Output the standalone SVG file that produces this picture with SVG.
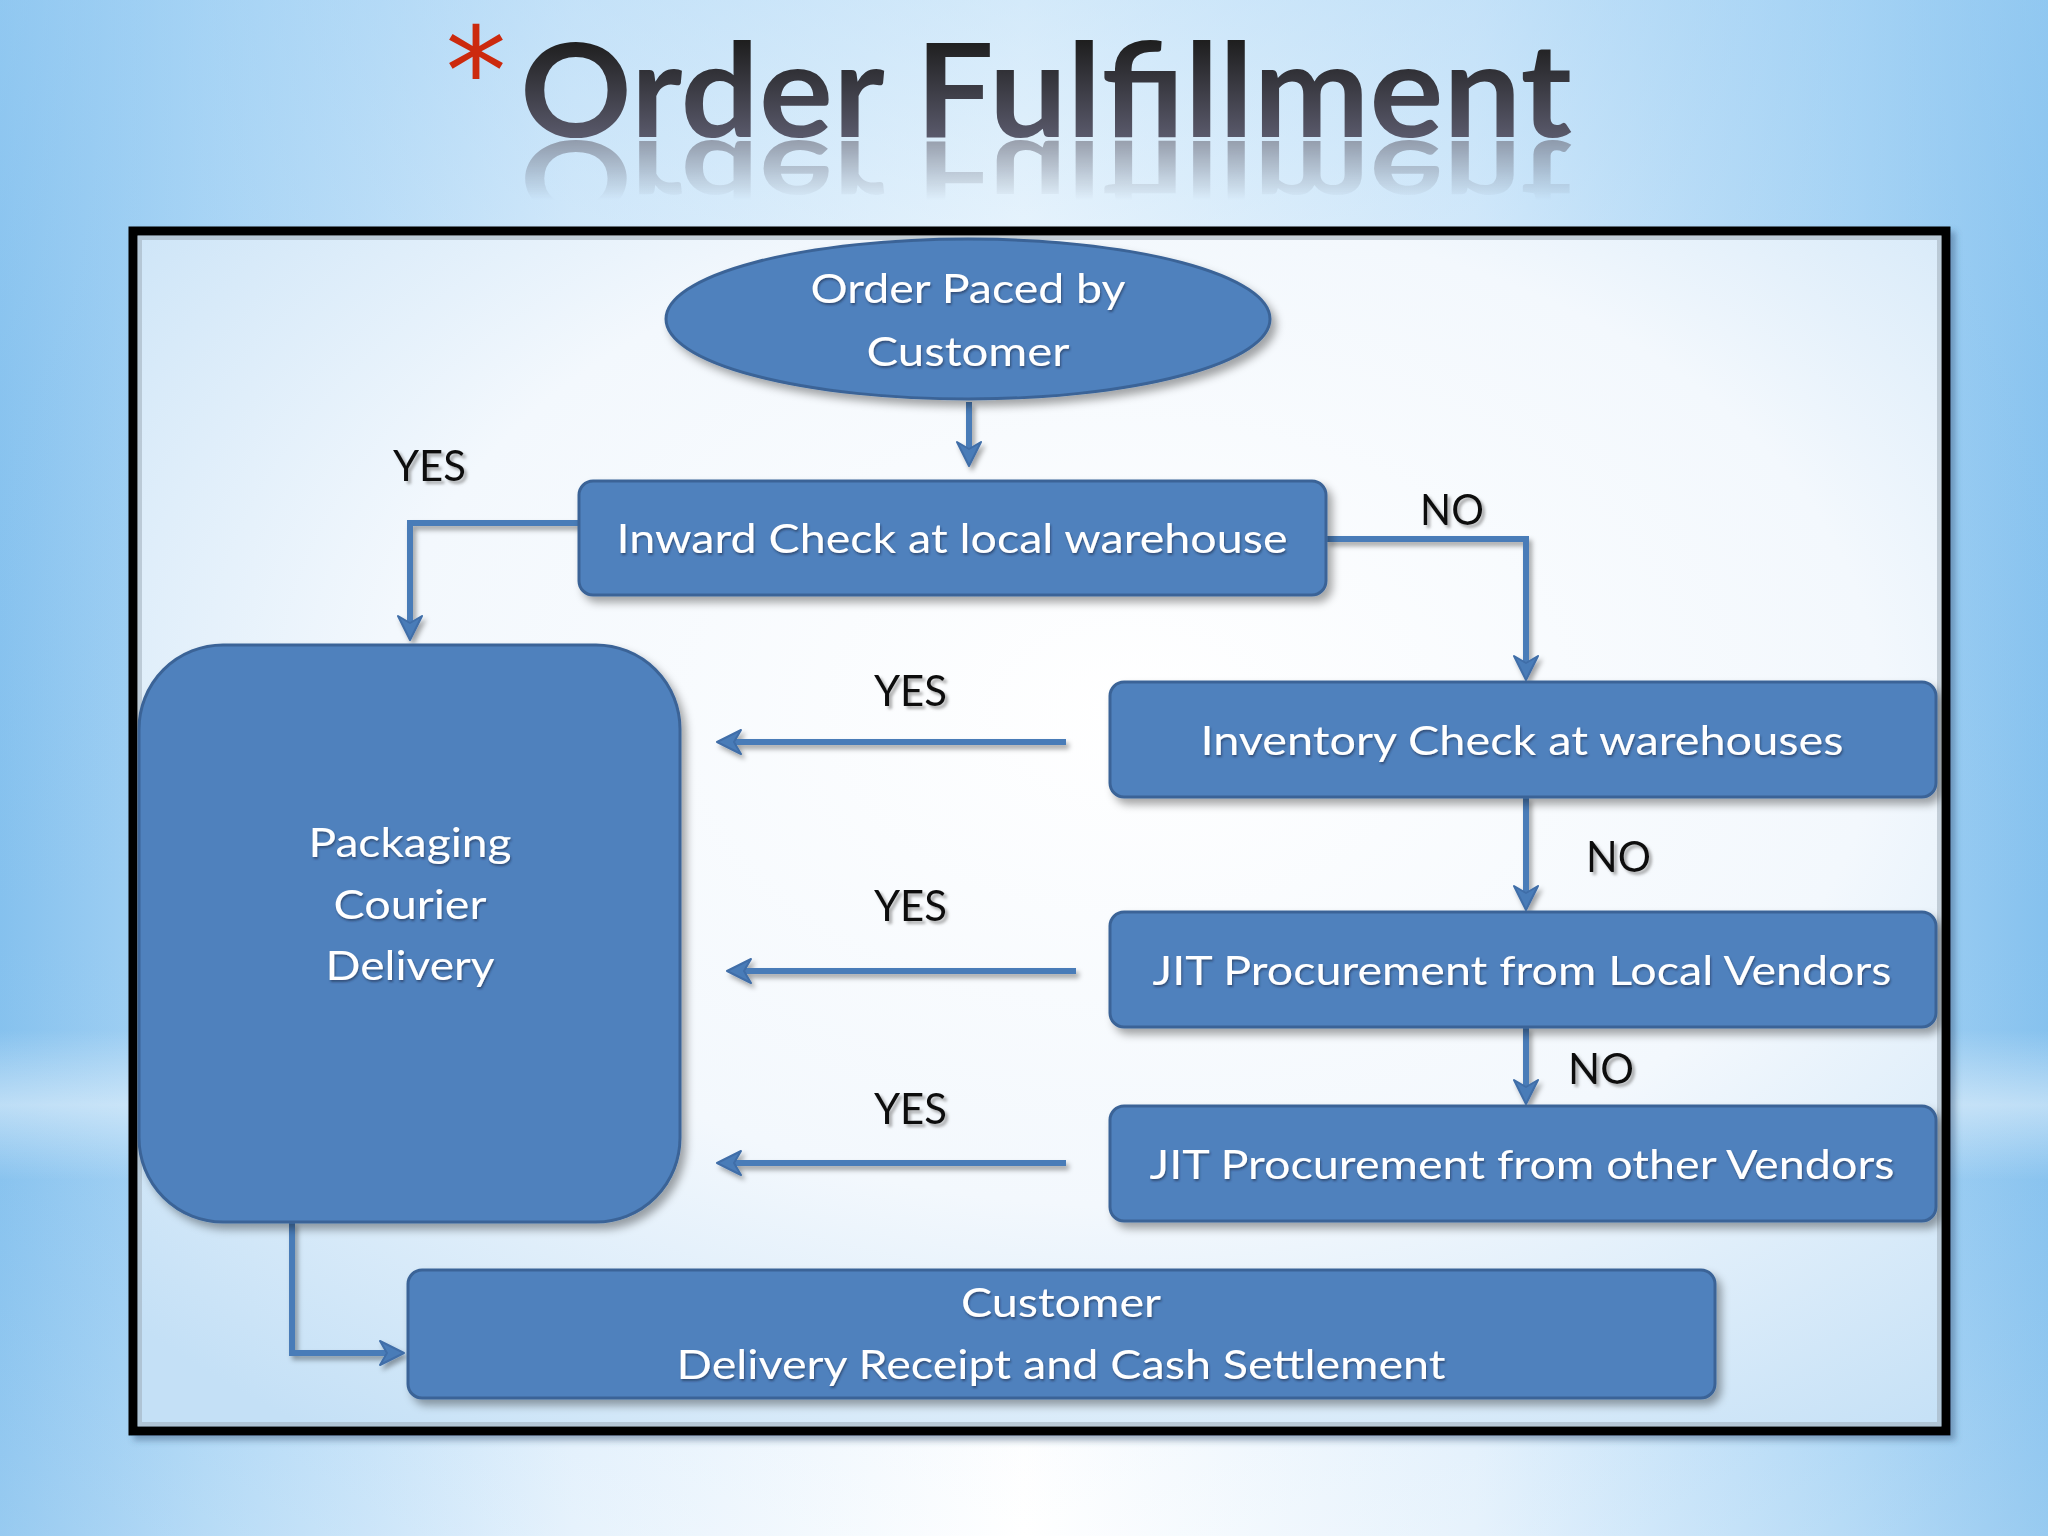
<svg xmlns="http://www.w3.org/2000/svg" width="2048" height="1536" viewBox="0 0 2048 1536">
  <defs>
    <linearGradient id="bg" x1="0" y1="0" x2="1" y2="0">
      <stop offset="0" stop-color="#85c1ee"/>
      <stop offset="0.1" stop-color="#aad5f5"/>
      <stop offset="0.28" stop-color="#e2f0fc"/>
      <stop offset="0.5" stop-color="#ffffff"/>
      <stop offset="0.72" stop-color="#e2f0fc"/>
      <stop offset="0.9" stop-color="#aad5f5"/>
      <stop offset="1" stop-color="#85c1ee"/>
    </linearGradient>
    <linearGradient id="topTint" x1="0" y1="0" x2="0" y2="1">
      <stop offset="0" stop-color="#9fd0f4" stop-opacity="0.45"/>
      <stop offset="0.25" stop-color="#9fd0f4" stop-opacity="0.15"/>
      <stop offset="0.6" stop-color="#9fd0f4" stop-opacity="0"/>
      <stop offset="1" stop-color="#ffffff" stop-opacity="0.15"/>
    </linearGradient>
    <linearGradient id="band" x1="0" y1="0" x2="0" y2="1">
      <stop offset="0" stop-color="#ffffff" stop-opacity="0"/>
      <stop offset="0.5" stop-color="#ffffff" stop-opacity="0.45"/>
      <stop offset="1" stop-color="#ffffff" stop-opacity="0"/>
    </linearGradient>
    <radialGradient id="inner" cx="55%" cy="40%" r="75%">
      <stop offset="0" stop-color="#ffffff"/>
      <stop offset="0.55" stop-color="#f3f8fd"/>
      <stop offset="1" stop-color="#c4e0f6"/>
    </radialGradient>
    <linearGradient id="titleFill" gradientUnits="userSpaceOnUse" x1="0" y1="40" x2="0" y2="140">
      <stop offset="0" stop-color="#1e1e1e"/>
      <stop offset="1" stop-color="#5b5b6d"/>
    </linearGradient>
    <linearGradient id="reflMaskGrad" gradientUnits="userSpaceOnUse" x1="0" y1="140" x2="0" y2="200">
      <stop offset="0" stop-color="#ffffff" stop-opacity="0.6"/>
      <stop offset="1" stop-color="#ffffff" stop-opacity="0"/>
    </linearGradient>
    <mask id="reflMask" maskUnits="userSpaceOnUse" x="0" y="0" width="2048" height="300">
      <rect x="0" y="139" width="2048" height="70" fill="url(#reflMaskGrad)"/>
    </mask>
    <filter id="shadow" x="-10%" y="-10%" width="125%" height="130%">
      <feDropShadow dx="5" dy="6" stdDeviation="4" flood-color="#000000" flood-opacity="0.35"/>
    </filter>
    <filter id="lineShadow" x="-10%" y="-10%" width="130%" height="130%">
      <feDropShadow dx="3" dy="4" stdDeviation="2.5" flood-color="#000000" flood-opacity="0.35"/>
    </filter>
    <filter id="txtShadow" x="-5%" y="-20%" width="110%" height="150%">
      <feDropShadow dx="1" dy="2" stdDeviation="1" flood-color="#1a2f4d" flood-opacity="0.6"/>
    </filter>
    <filter id="lblShadow" x="-10%" y="-20%" width="130%" height="150%">
      <feDropShadow dx="3" dy="3" stdDeviation="1.5" flood-color="#777777" flood-opacity="0.6"/>
    </filter>
    <filter id="frameShadow" x="-5%" y="-5%" width="110%" height="110%">
      <feDropShadow dx="5" dy="5" stdDeviation="3" flood-color="#335577" flood-opacity="0.45"/>
    </filter>
    <marker id="arr" markerUnits="userSpaceOnUse" viewBox="-30 -16 34 32" refX="-8" refY="0" markerWidth="34" markerHeight="32" orient="auto" overflow="visible">
      <path d="M0,0 L-24,-12 L-17,0 L-24,12 Z" fill="#4a7bb8" stroke="#3f6ea8" stroke-width="2" stroke-linejoin="round"/>
    </marker>
    <style>
      .node { fill: #4f81bd; stroke: #3b6497; stroke-width: 3; }
      .ntxt { font-family: Lato, "Open Sans", "Liberation Sans", sans-serif; font-size: 40px; fill: #ffffff; text-anchor: middle; }
      .lbl { font-family: Lato, "Open Sans", "Liberation Sans", sans-serif; font-size: 42px; fill: #111111; }
      .conn { fill: none; stroke: #4a7bb8; stroke-width: 6; stroke-linejoin: miter; }
    </style>
  </defs>

  <!-- background -->
  <rect x="0" y="0" width="2048" height="1536" fill="url(#bg)"/>
  <rect x="0" y="0" width="2048" height="1536" fill="url(#topTint)"/>
  <rect x="0" y="1030" width="2048" height="150" fill="url(#band)"/>

  <!-- title -->
  <g id="title">
    <text x="476" y="114" font-family="'DejaVu Sans', sans-serif" font-size="122" fill="#cc2a0e" text-anchor="middle">*</text>
    <text id="titleText" x="520" y="137" font-family="Lato, 'Open Sans', sans-serif" font-weight="700" font-size="130" textLength="1052" lengthAdjust="spacingAndGlyphs" fill="url(#titleFill)">Order Fulfillment</text>
    <g mask="url(#reflMask)">
      <text x="520" y="137" transform="translate(0,250.2) scale(1,-0.8)" font-family="Lato, 'Open Sans', sans-serif" font-weight="700" font-size="130" textLength="1052" lengthAdjust="spacingAndGlyphs" fill="#6a6a78">Order Fulfillment</text>
    </g>
  </g>

  <!-- frame -->
  <g id="frame">
    <rect x="133" y="231" width="1813" height="1200" fill="url(#inner)" stroke="#000000" stroke-width="9" filter="url(#frameShadow)"/>
    <rect x="140" y="238" width="1799" height="1186" fill="none" stroke="#9aa7b3" stroke-width="4" opacity="0.5"/>
  </g>

  <!-- connectors -->
  <g id="connectors" filter="url(#lineShadow)">
    <path class="conn" d="M969,402 L969,458" marker-end="url(#arr)"/>
    <path class="conn" d="M579,523 L410,523 L410,632" marker-end="url(#arr)"/>
    <path class="conn" d="M1326,539 L1526,539 L1526,672" marker-end="url(#arr)"/>
    <path class="conn" d="M1526,797 L1526,902" marker-end="url(#arr)"/>
    <path class="conn" d="M1526,1027 L1526,1096" marker-end="url(#arr)"/>
    <path class="conn" d="M1066,742 L725,742" marker-end="url(#arr)"/>
    <path class="conn" d="M1076,971 L735,971" marker-end="url(#arr)"/>
    <path class="conn" d="M1066,1163 L725,1163" marker-end="url(#arr)"/>
    <path class="conn" d="M292,1222 L292,1353 L396,1353" marker-end="url(#arr)"/>
  </g>

  <!-- labels -->
  <g id="labels" filter="url(#lblShadow)">
    <text class="lbl" x="393" y="481" textLength="73" lengthAdjust="spacingAndGlyphs">YES</text>
    <text class="lbl" x="1420" y="525" textLength="64" lengthAdjust="spacingAndGlyphs">NO</text>
    <text class="lbl" x="874" y="706" textLength="73" lengthAdjust="spacingAndGlyphs">YES</text>
    <text class="lbl" x="1586" y="872" textLength="65" lengthAdjust="spacingAndGlyphs">NO</text>
    <text class="lbl" x="874" y="921" textLength="73" lengthAdjust="spacingAndGlyphs">YES</text>
    <text class="lbl" x="1568" y="1084" textLength="66" lengthAdjust="spacingAndGlyphs">NO</text>
    <text class="lbl" x="874" y="1124" textLength="73" lengthAdjust="spacingAndGlyphs">YES</text>
  </g>

  <!-- nodes -->
  <g id="node-order">
    <ellipse class="node" cx="968" cy="319" rx="302" ry="80" filter="url(#shadow)"/>
    <g filter="url(#txtShadow)">
      <text class="ntxt" x="968" y="303" textLength="315" lengthAdjust="spacingAndGlyphs">Order Paced by</text>
      <text class="ntxt" x="968" y="366" textLength="203" lengthAdjust="spacingAndGlyphs">Customer</text>
    </g>
  </g>

  <g id="node-inward">
    <rect class="node" x="579" y="481" width="747" height="114" rx="14" filter="url(#shadow)"/>
    <text class="ntxt" x="952" y="553" textLength="671" lengthAdjust="spacingAndGlyphs" filter="url(#txtShadow)">Inward Check at local warehouse</text>
  </g>

  <g id="node-packaging">
    <rect class="node" x="139" y="645" width="541" height="577" rx="84" filter="url(#shadow)"/>
    <g filter="url(#txtShadow)">
      <text class="ntxt" x="410" y="857" textLength="203" lengthAdjust="spacingAndGlyphs">Packaging</text>
      <text class="ntxt" x="410" y="919" textLength="153" lengthAdjust="spacingAndGlyphs">Courier</text>
      <text class="ntxt" x="410" y="980" textLength="169" lengthAdjust="spacingAndGlyphs">Delivery</text>
    </g>
  </g>

  <g id="node-inventory">
    <rect class="node" x="1110" y="682" width="826" height="115" rx="14" filter="url(#shadow)"/>
    <text class="ntxt" x="1522" y="755" textLength="643" lengthAdjust="spacingAndGlyphs" filter="url(#txtShadow)">Inventory Check at warehouses</text>
  </g>

  <g id="node-jit-local">
    <rect class="node" x="1110" y="912" width="826" height="115" rx="14" filter="url(#shadow)"/>
    <text class="ntxt" x="1522" y="985" textLength="739" lengthAdjust="spacingAndGlyphs" filter="url(#txtShadow)">JIT Procurement from Local Vendors</text>
  </g>

  <g id="node-jit-other">
    <rect class="node" x="1110" y="1106" width="826" height="115" rx="14" filter="url(#shadow)"/>
    <text class="ntxt" x="1522" y="1179" textLength="745" lengthAdjust="spacingAndGlyphs" filter="url(#txtShadow)">JIT Procurement from other Vendors</text>
  </g>

  <g id="node-customer">
    <rect class="node" x="408" y="1270" width="1307" height="128" rx="14" filter="url(#shadow)"/>
    <g filter="url(#txtShadow)">
      <text class="ntxt" x="1061" y="1317" textLength="200" lengthAdjust="spacingAndGlyphs">Customer</text>
      <text class="ntxt" x="1061" y="1379" textLength="769" lengthAdjust="spacingAndGlyphs">Delivery Receipt and Cash Settlement</text>
    </g>
  </g>
</svg>
